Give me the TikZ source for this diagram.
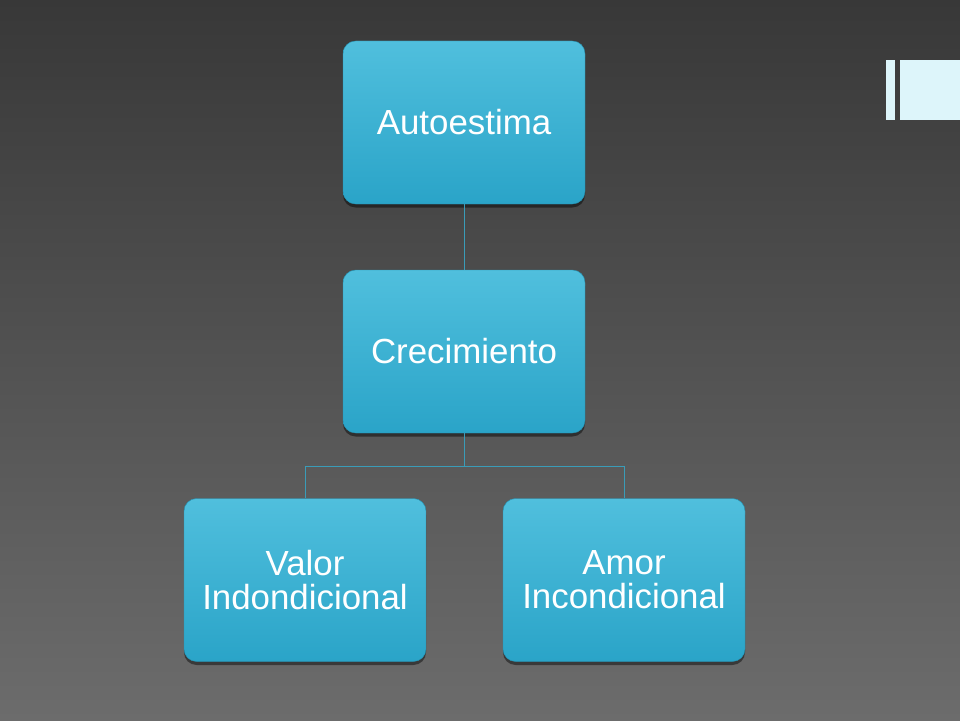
\documentclass[tikz,border=0pt]{standalone}
\usepackage{fontspec}
\setmainfont{Liberation Sans}
\usetikzlibrary{positioning, shadows}

\definecolor{boxtop}{HTML}{50BFDD}
\definecolor{boxbot}{HTML}{2AA4C8}
\definecolor{linkcol}{HTML}{3A9CB8}
\definecolor{bgtop}{HTML}{383838}
\definecolor{bgbot}{HTML}{6C6C6C}
\definecolor{deco}{HTML}{DDF5FA}

\begin{document}
\begin{tikzpicture}[
        box/.style={rectangle, rounded corners=9pt, minimum width=6.05cm, minimum height=4.075cm,
            top color=boxtop, bottom color=boxbot, draw=boxbot!90!black, line width=0.3pt,
            text=white, align=center, font=\fontsize{24.8}{27}\selectfont,
            drop shadow={shadow xshift=0pt, shadow yshift=-2.5pt, opacity=0.45, fill=black}},
        link/.style={draw=linkcol, line width=0.6pt}
    ]
                    \useasboundingbox (0, 0) rectangle (24, 18);
                    \shade[top color=bgtop, bottom color=bgbot] (0, 0) rectangle (24, 18);

                    % decoration top right
                    \fill[deco] (22.15, 15) rectangle (22.375, 16.5);
                    \fill[deco] (22.5, 15) rectangle (24, 16.5);

                    \node[box] (auto) at (11.6, 14.9375) {Autoestima};
                    \node[box] (crec) at (11.6, 9.2125) {Crecimiento};
                    \node[box] (valor) at (7.625, 3.5) {Valor\\[-3pt]Indondicional};
                    \node[box] (amor) at (15.6, 3.5) {Amor\\[-3pt]Incondicional};

                    \coordinate (split) at (11.6, 6.35);

                    \draw[link] (auto) -- (crec);
                    \draw[link] (crec) -- (split);
                    \draw[link] (split) -| (valor);
                    \draw[link] (split) -| (amor);
                \end{tikzpicture}
\end{document}
